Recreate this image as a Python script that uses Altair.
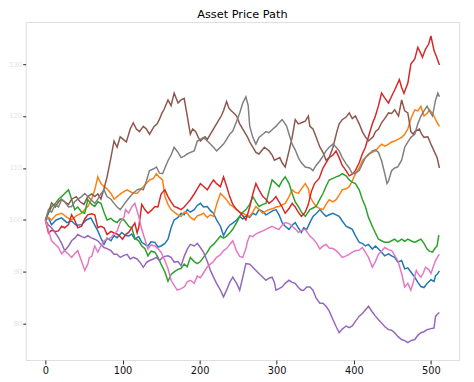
import altair as alt
import pandas as pd

title_text = "Asset Price Path"
series_names = ["blue", "orange", "green", "red", "purple", "brown", "pink", "gray"]
series_colors = ["#1f77b4", "#ff7f0e", "#2ca02c", "#d62728", "#9467bd", "#8c564b", "#e377c2", "#7f7f7f"]
x_ticks = [0, 100, 200, 300, 400, 500]
y_ticks = [80, 90, 100, 110, 120, 130]

blue_t = [0,4,8,14,21,28,34,40,47,53,59,64,68,72,76,80,85,89,93,99,104,108,112,116,121,125,129,133,137,142,146,150,155,159,163,167,172,176,180,184,188,193,197,201,205,210,214,218,222,227,231,235,239,243,248,252,256,260,265,269,273,277,282,286,290,295,299,303,307,311,316,320,324,328,332,335,339,343,347,351,356,360,364,368,373,377,381,385,390,394,398,402,407,411,415,419,424,428,432,436,440,445,449,453,457,462,466,470,474,479,483,487,491,495,500,504,506,508,511]
blue_v = [100,100.4,99.1,100,100.4,99.5,99.8,99,99.1,100,100.4,99,97.9,96.5,95.3,96.5,96,97,96.6,97.6,97,96.9,97.3,96.3,96.8,95.7,95.3,95,95.8,95.7,94.8,95,95.5,96.3,98.5,100,100.5,101.3,101,102,101.5,102,102.8,103.2,102.5,102.6,101.8,101.3,100,98.8,97,98.2,99,99.4,100,100.7,100.2,100.8,100.5,101.3,101,102,101.6,101,101.3,101.8,102,101,99.5,98.8,98.2,99,99.5,98.5,97.6,98.5,98.2,99.5,100.7,101.2,102,101.3,100.7,101,101.3,101,100.7,99.8,98.8,98.5,98.2,97,95.7,95.5,95,95.3,94.4,95,94.4,93.8,93.1,93.5,93.1,92.8,91.9,92.2,90.6,90.8,90,89,88,87.2,87,87.8,88.5,88.2,89.3,89.5,90.2]

orange_t = [0,4,8,14,21,28,34,40,47,51,55,60,64,68,72,76,80,85,89,93,99,106,112,119,123,127,131,135,140,144,148,152,155,159,163,167,172,176,180,184,188,193,197,201,205,210,214,218,222,227,231,235,239,243,248,252,256,260,265,269,273,277,282,286,290,295,299,303,307,311,316,320,324,328,332,337,341,343,347,351,356,360,364,368,373,377,381,385,390,394,398,402,407,411,415,419,424,428,432,436,440,445,449,453,457,462,466,470,474,479,483,487,491,495,498,502,504,507,511]
orange_v = [100,100.5,100,101,101.3,100.5,100,100.8,101.3,102,102.6,104,105.8,108.3,107,106.4,106,105.1,104,104.5,105.2,105.8,105.3,105.1,105.8,106.4,107,107.7,108,108.9,108.2,107.7,104.5,103,102,101.5,101,100.7,101.5,101.3,100.5,100,100.8,101,101.3,100.5,101,100.7,103,105.1,104.5,103.9,103,102.6,102,101.5,101.3,101,100.7,101.5,102.6,102,101.3,101.7,102,102.2,102.5,102.6,102.9,103.2,104.5,105.8,105.3,105.1,106,107,106,104.5,103.5,102.6,102.2,102,103,103.9,103.5,103.9,104.8,105.8,106,106.4,107.5,108.9,110,111.4,112,112.7,113,113.3,114,114.6,114.2,114.6,115,115.2,115.5,115.9,116.5,117.5,119.5,121.2,121,121.9,120,120.5,121.2,120.5,120,119,118]

green_t = [0,4,8,13,17,21,25,30,34,38,42,47,51,55,60,64,68,72,76,80,85,89,93,97,102,108,112,116,121,125,129,133,137,142,146,150,155,159,163,167,172,176,180,184,188,193,197,201,205,210,214,218,222,227,231,235,239,243,248,252,256,260,265,269,273,277,282,286,290,294,299,303,307,311,316,320,324,328,332,337,343,347,351,356,360,364,368,373,377,381,385,390,394,398,402,407,411,415,419,424,428,432,436,440,445,449,453,457,462,466,470,474,479,483,487,491,495,498,502,505,508,510,511]
green_v = [100,101.3,102.5,103.2,104,104.5,105.1,105.8,104,102,102.5,101.5,101.3,103.9,103,102.6,103.5,103.2,101.5,100,100.3,99.8,99.5,100.2,100,98.8,98.5,96.5,96,95,94.5,93.1,94,93.8,92.8,91.5,90,88.2,89.5,90,90.5,90.7,91.5,91,92.8,92,91.6,92,92.8,93.8,94.8,95.3,96,96.9,96.5,96.9,97.5,98.2,99.5,100.7,101.5,102,103,104.5,103.5,102.6,103,103.2,105.5,107.7,107,106.4,107.5,108.3,107,105.1,103.5,102.6,101.5,100.7,102,102.3,102.6,104,105.1,106.5,107.7,108,108.3,108.5,108.9,108.5,107.7,107.3,107,105.8,104,102.6,100.5,98.8,97.5,96.3,96,95.7,95.7,96,96.3,95.8,96.3,95.9,96.3,96,95.7,96,96.3,95.5,94.4,94,93.8,94.5,95,96.9,96.8]

red_t = [0,4,8,13,17,21,25,30,34,38,42,47,51,55,60,64,68,72,76,80,85,89,93,97,100,104,108,112,116,119,121,125,129,133,137,142,146,150,155,159,163,167,172,176,180,184,188,193,197,201,205,210,214,218,222,227,231,235,239,243,248,252,256,260,265,269,273,277,282,286,290,295,299,303,307,311,316,320,324,328,332,337,341,345,349,355,360,364,368,373,377,381,385,390,394,398,402,407,411,415,419,424,428,432,436,440,445,449,453,459,462,465,470,474,479,483,487,489,493,497,500,502,504,507,511]
red_v = [100,97.5,98,97.8,97.9,98.8,98.5,99.1,101,100,98.5,98.8,100.2,101,101.2,101,98.5,98.8,98.5,97.2,97.8,97.5,97.3,96.8,96.3,97.2,97.6,98.5,99.4,97.5,98.5,103,102,101.3,101.8,102.6,102.5,105,105.8,104.5,103.5,102.6,102.3,102,102.5,103.2,103.9,105,106,107,106.5,105.8,106.8,107.7,107,106.4,108.3,106.5,104.5,103,102,101.5,100.8,100,102.5,105,107,105.8,104.5,104,103.2,103.8,104.5,103.5,102.5,101.3,102.2,103.2,102.5,101.5,100.7,101.5,103,105.5,107,108,110,111,112,112.5,113.3,112,110.5,109.5,108.5,108.8,109.5,111,112.7,114,116,118.5,120,122,124.4,123.5,122.5,123.8,125,127,125.5,124.4,126.3,130,131,133.2,132,131.3,132.9,133.8,135.4,134,132.6,131.5,129.8]

purple_t = [0,4,8,13,17,21,25,30,34,38,42,47,51,55,59,64,68,72,76,80,85,89,93,97,102,106,110,114,119,123,127,131,135,140,144,148,152,155,159,163,167,172,176,180,184,188,193,197,201,205,210,214,218,222,227,231,235,239,243,248,252,256,260,265,269,273,277,282,286,290,294,297,299,303,307,311,316,320,324,328,332,335,339,343,347,351,356,360,364,368,373,377,381,385,390,394,398,402,407,411,415,419,424,428,432,436,440,445,449,453,457,462,466,470,474,479,483,487,491,495,500,504,506,508,510,511]
purple_v = [100,99,98.5,97.5,96.6,95.5,94.1,95,96,96.5,97.2,96.8,96.6,97,96.6,96.3,96,95.3,94.7,94.5,94.1,93.4,93.4,92.8,93.2,93.4,92.5,92.8,92.5,91.8,90.9,91.8,92.2,92.5,92.8,92.2,92.8,93,93.1,92.8,91.9,92,91.2,93,94.4,95.3,95,95.5,94.7,93.8,92,90.3,89,87.8,86.5,85.2,86.5,88,89,87.8,86.5,89,91.6,91.5,90.9,90.3,89.7,89,88.4,88.8,89,88,86.5,86.8,87.1,87.8,88.4,88,87.8,87,86.5,86.5,87.1,87.1,86.5,85,84,84,83.4,82.5,80.8,79.5,78.3,79,79.6,79.3,79.6,80.5,81.5,82,82.7,83.4,82.3,81.5,80.8,80.2,79.5,78.9,78.8,78.3,77.6,77,76.8,76.4,76.8,77,77.8,78.3,78.5,78.9,79.1,79.2,81.5,81.8,82.1,82.2]

brown_t = [0,4,8,13,17,21,25,30,34,40,45,50,55,60,64,68,72,76,80,85,89,93,97,101,105,110,114,118,122,127,131,135,141,145,148,151,154,159,163,167,172,176,180,184,188,191,195,198,201,207,210,214,220,224,228,231,235,238,241,245,248,252,256,262,265,269,273,277,284,290,294,297,304,307,311,316,320,324,328,332,337,341,343,347,351,356,360,364,368,373,378,381,385,390,394,398,402,407,411,415,419,425,428,432,436,440,445,449,453,458,462,466,470,474,477,479,485,488,491,496,500,504,508,511]
brown_v = [100,101.5,103.3,102.5,103.5,104,103.5,103,104,104.5,103.5,103,104.5,105,104.5,105,104,106,108.3,112,115.2,114,116,115.5,115,117.5,118.7,117.5,117,118,117.5,116.5,118,118.5,119.4,120.5,121.3,123.1,122,124.4,122.5,123.1,123.4,120,116.5,117.5,117,116,115.2,116,115.5,116.5,118,119,120,121,122.8,121.5,121,120.5,120,118.5,117.5,116,115,114,113,112.7,114,113.3,112.5,111.5,112,111,110.2,113.3,115.9,119.3,118.5,118.7,119,120,118,117.5,116,114,113,111.5,112,114,117,118.5,119.3,119.8,120.6,119.5,120,118.5,117,116,115.2,116,117,117.5,118.7,119.5,120.6,120.5,121.2,120,123.1,121,120.6,117,116.5,117,117.5,116.5,115.9,116,114.6,113.3,112,110]

pink_t = [0,4,8,13,17,21,25,30,34,38,42,47,51,55,57,60,64,68,72,76,80,85,89,93,97,102,104,108,112,116,121,125,129,133,137,142,146,150,155,159,163,167,171,176,180,184,188,193,197,201,205,210,214,218,222,227,231,235,239,243,248,252,256,260,262,265,269,273,277,282,286,290,294,299,303,307,311,316,320,324,328,332,337,343,347,351,356,360,364,368,373,377,381,385,390,394,398,402,407,411,415,419,424,428,432,436,440,445,449,453,457,462,466,470,474,477,481,484,487,490,493,497,500,503,506,509,511]
pink_v = [100,98,96,95.3,94.7,93.5,94.1,93.4,92.8,93.5,94.1,92,90.3,91.5,92.8,93,95,93.8,95,96,96.3,96.6,97.3,97.9,99.5,100.6,102,101.3,102.5,103.2,100.7,98.2,96.3,94.4,95.2,95,94.5,93.8,92.2,90.6,88.4,87.4,86.5,86.8,87.1,88.1,88.4,87.8,89.2,88.9,89.8,91,91.5,92,92.8,93.3,94.1,94.5,95.3,96,94,93,92.8,94.5,95.8,97,96.8,97.3,97.6,97.9,98.2,98.5,98.8,98.4,98.2,99,99.5,99.3,98.8,98.3,97.6,98,98.2,96.9,96.4,95.7,94.4,95,95.3,94.6,94.5,94.1,93.5,92.8,93.1,93.4,93.8,94.1,94.2,94.7,93.8,92.8,90.9,92,93.4,94,94.7,94.3,94.1,93.2,92.2,89.7,87.1,87.8,86.5,88,90.3,89.5,89,89.8,90.9,90.5,89.7,91,92.2,93,93.4]

gray_t = [0,4,8,13,17,21,25,30,34,38,42,47,51,55,60,64,68,72,76,80,85,89,93,97,102,106,110,114,119,123,127,131,135,140,144,148,152,155,159,163,167,172,176,180,184,188,193,197,201,205,210,214,218,222,227,231,235,239,243,248,252,256,260,263,265,269,273,277,282,286,290,295,299,303,307,311,313,316,320,324,328,332,337,343,347,351,356,360,364,368,373,377,381,385,390,394,398,402,407,411,415,419,424,428,432,436,440,443,445,449,453,457,462,466,470,474,479,483,487,491,495,498,502,506,509,511]
gray_v = [100,102,101.5,103,102.5,103.9,103.5,102.5,102.6,103.5,104,104.5,105.1,104.5,103.8,103.2,104,105,105.8,104.5,104,103.2,102.5,102,103,103.8,104.5,105.2,105.8,106,105.8,107.5,109.5,109.8,110.2,109,108.9,110,111.4,112.5,114,113,112,112.3,112.7,113,113.3,115.2,115.5,115.9,115.2,114.6,114,113.3,114,114.6,115.5,116.5,117.1,119,120.6,122.5,123.7,122,118,115.9,114.6,115.9,116.5,117,116.8,117.5,118,118.7,119.3,118.5,118,116.5,114.6,113.5,112,111,110.2,110,109.5,110.5,111.4,112.3,113.3,114,114.6,114,113.3,112,110.8,110,108.9,109,109.5,110.8,112,112.5,113.3,113.5,113,111.4,109,107,107.5,109.5,110,110.2,111.5,114,115,115.9,116.5,118.5,120,121,121.9,121,120,123.1,124.4,123.7]

all_t = [blue_t, orange_t, green_t, red_t, purple_t, brown_t, pink_t, gray_t]
all_v = [blue_v, orange_v, green_v, red_v, purple_v, brown_v, pink_v, gray_v]

rows = []
for i, (name, ts, vs) in enumerate(zip(series_names, all_t, all_v)):
    for t, v in zip(ts, vs):
        rows.append({"series": name, "order": i, "step": t, "price": v})
df = pd.DataFrame(rows)

x_scale = alt.Scale(domain=[-25.55, 536.55], nice=False, zero=False)
y_scale = alt.Scale(domain=[73.05, 138.1], nice=False, zero=False)

chart = alt.Chart(df).mark_line(strokeWidth=1.5, clip=True).encode(
    x=alt.X("step:Q", scale=x_scale,
            axis=alt.Axis(values=x_ticks, title=None, grid=False, domain=False,
                          tickSize=4, tickColor="#222", labelColor="#111",
                          labelFontSize=10, labelFont="DejaVu Sans", labelPadding=2)),
    y=alt.Y("price:Q", scale=y_scale,
            axis=alt.Axis(values=y_ticks, title=None, grid=False, domain=False,
                          tickSize=3, tickColor="#222", labelColor="#e4e4e4",
                          labelFontSize=8, labelFont="Liberation Sans", labelPadding=1)),
    color=alt.Color("series:N", scale=alt.Scale(domain=series_names, range=series_colors), legend=None),
    detail="series:N",
    order="step:Q",
).properties(
    width=441, height=344,
    title=alt.TitleParams(title_text, fontSize=11.5, font="DejaVu Sans", fontWeight="normal",
                          color="#000", anchor="middle", offset=2),
    autosize=alt.AutoSizeParams(type="none"),
    padding={"left": 18, "top": 11, "right": 7, "bottom": 12},
).configure_view(
    stroke="#333", strokeWidth=1
).configure(background="white")

chart.save("out.html", embed_options={"renderer": "svg", "actions": False})
